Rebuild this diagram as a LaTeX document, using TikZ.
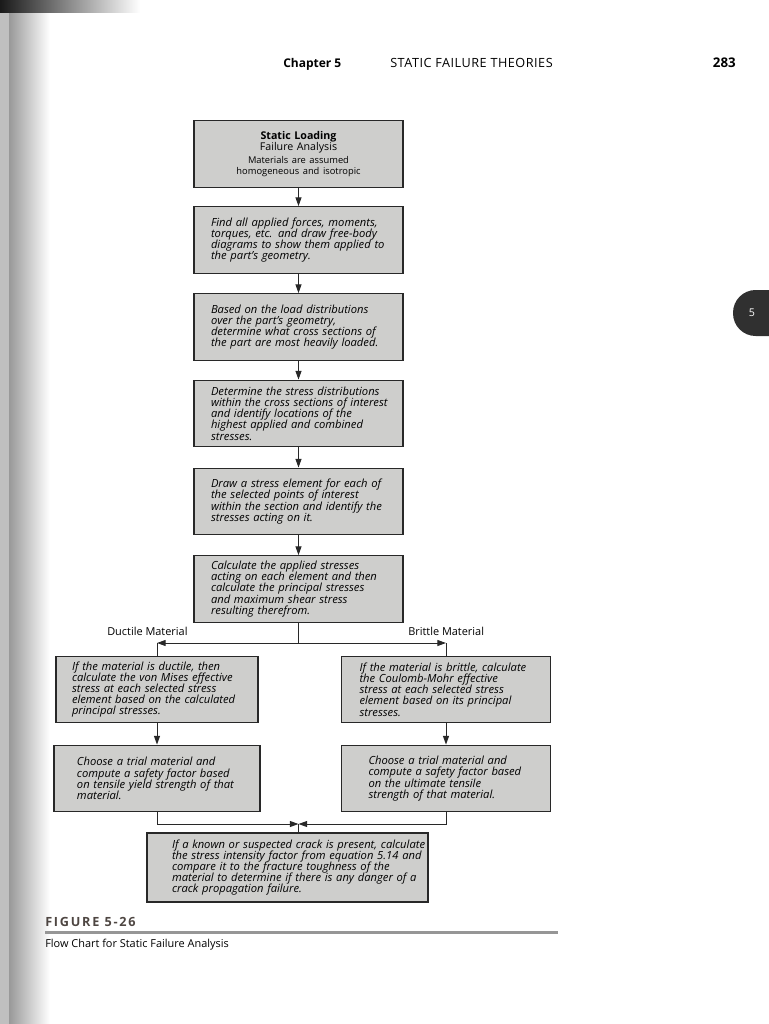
\documentclass[tikz,border=0pt]{standalone}
\usepackage{fontspec}
\setmainfont{Open Sans}
\usetikzlibrary{arrows.meta}

\definecolor{boxgray}{RGB}{206,206,204}
\definecolor{linegray}{RGB}{40,40,40}
\definecolor{capbrown}{RGB}{78,70,66}
\definecolor{rulegray}{RGB}{150,150,150}
\definecolor{tabgray}{RGB}{48,48,48}

\newcommand\boxfont{\fontsize{8.4}{8.4}\selectfont\itshape\lineskiplimit=-10pt\relax}

\tikzset{
  flowbox/.style={draw=linegray, line width=0.9pt, fill=boxgray, align=left,
    inner xsep=1pt, inner ysep=0pt, minimum height=50pt, font=\boxfont},
  flowarrow/.style={draw=linegray, line width=0.75pt, -{Triangle[width=4.5pt,length=6.5pt]}},
  flowline/.style={draw=linegray, line width=0.75pt},
  headtext/.style={inner sep=0pt, font=\fontsize{9.5}{11}\selectfont\addfontfeature{LetterSpace=4}},
  branchlabel/.style={inner sep=0pt, font=\fontsize{8.2}{10}\selectfont}
}

\begin{document}
\begin{tikzpicture}[x=0.75pt,y=-0.75pt]

% 範囲
\useasboundingbox (0,0) rectangle (768,1024);

% ページの影
\fill[gray!50] (0,0) rectangle (9,1024);
\shade[left color=gray!80, right color=white] (9,0) rectangle (50,1024);
\shade[left color=black!90, right color=white] (0,0) rectangle (140,13);

% 見出し
\node[inner sep=0pt, anchor=base west, font=\fontsize{9}{11}\selectfont\bfseries] (chap) at (283,68) {Chapter 5};
\node[headtext, anchor=base west] (title) at (390,68) {STATIC FAILURE THEORIES};
\node[inner sep=0pt, anchor=base east, font=\fontsize{10}{11}\selectfont\bfseries] (page) at (736,68) {283};

% タブ
\fill[tabgray, rounded corners=17pt] (733,290) rectangle (800,336);
\node[text=white, font=\fontsize{8}{10}\selectfont] (tab) at (752,313) {5};

% 静的荷重
\node[flowbox, align=center, inner xsep=0pt, text width=156.75pt, font=\fontsize{8}{8.25}\selectfont] (b1) at (298.5,154)
  {{\bfseries Static Loading}\\Failure Analysis\\[1.5pt]
   {\fontsize{7}{8}\selectfont Materials are assumed}\\
   {\fontsize{7}{8}\selectfont homogeneous and isotropic}};

% 荷重
\node[flowbox, text width=154.75pt] (b2) at (298.5,240)
  {\leftskip=11.75pt\relax Find all applied forces, moments,\\torques, etc. and draw free-body\\diagrams to show them applied to\\the part's geometry.\par};

% 断面
\node[flowbox, text width=154.75pt] (b3) at (298.5,327)
  {\leftskip=11.75pt\relax Based on the load distributions\\over the part's geometry,\\determine what cross sections of\\the part are most heavily loaded.\par};

% 応力分布
\node[flowbox, text width=154.75pt] (b4) at (298.5,413.5)
  {\leftskip=11.75pt\relax Determine the stress distributions\\within the cross sections of interest\\and identify locations of the\\highest applied and combined\\stresses.\par};

% 応力要素
\node[flowbox, text width=154.75pt] (b5) at (298.5,501.5)
  {\leftskip=11.75pt\relax Draw a stress element for each of\\the selected points of interest\\within the section and identify the\\stresses acting on it.\par};

% 主応力
\node[flowbox, text width=154.75pt] (b6) at (298.5,589)
  {\leftskip=11.75pt\relax Calculate the applied stresses\\acting on each element and then\\calculate the principal stresses\\and maximum shear stress\\resulting therefrom.\par};

% 延性材料
\node[flowbox, text width=149.5pt] (b7) at (157,689.5)
  {\leftskip=11pt\relax If the material is ductile, then\\calculate the von Mises effective\\stress at each selected stress\\element based on the calculated\\principal stresses.\par};

% 脆性材料
\node[flowbox, text width=154.75pt] (b8) at (446,689.5)
  {\leftskip=12.5pt\relax If the material is brittle, calculate\\the Coulomb-Mohr effective\\stress at each selected stress\\element based on its principal\\stresses.\par};

% 安全率(延性)
\node[flowbox, text width=152.5pt] (b9) at (157,778.5)
  {\leftskip=16.25pt\relax Choose a trial material and\\compute a safety factor based\\on tensile yield strength of that\\material.\par};

% 安全率(脆性)
\node[flowbox, text width=154.75pt] (b10) at (446,778.5)
  {\leftskip=19.25pt\relax Choose a trial material and\\compute a safety factor based\\on the ultimate tensile\\strength of that material.\par};

% き裂
\node[flowbox, text width=208.75pt, minimum height=51.75pt] (b11) at (287.5,867.5)
  {\leftskip=17.75pt\relax If a known or suspected crack is present, calculate\\the stress intensity factor from equation 5.14 and\\compare it to the fracture toughness of the\\material to determine if there is any danger of a\\crack propagation failure.\par};

% 矢印
\draw[flowarrow] (b1) -- (b2);
\draw[flowarrow] (b2) -- (b3);
\draw[flowarrow] (b3) -- (b4);
\draw[flowarrow] (b4) -- (b5);
\draw[flowarrow] (b5) -- (b6);

% 分岐
\coordinate (split) at (298.5,643);
\coordinate (dl) at (157,643);
\coordinate (dr) at (446,643);
\draw[flowline] (b6) -- (split);
\draw[flowarrow] (split) -- (dl);
\draw[flowarrow] (split) -- (dr);
\draw[flowline] (dl) -- (b7);
\draw[flowline] (dr) -- (b8);
\node[branchlabel, anchor=base west] (ductile) at (107,635) {Ductile Material};
\node[branchlabel, anchor=base west] (brittle) at (408,635) {Brittle Material};

\draw[flowarrow] (b7) -- (b9);
\draw[flowarrow] (b8) -- (b10);

% 合流
\coordinate (join) at (298.5,824);
\draw[flowarrow] (b9) |- (join);
\draw[flowarrow] (b10) |- (join);
\draw[flowline] (join) -- (join |- b11.north);

% 図番号
\node[inner sep=0pt, anchor=base west, text=capbrown,
  font=\fontsize{9.5}{11}\selectfont\bfseries\addfontfeature{LetterSpace=14}] (fig) at (45,926) {FIGURE 5-26};
\draw[rulegray, line width=2.2pt] (45,932.5) -- (558,932.5);
\node[inner sep=0pt, anchor=base west, font=\fontsize{8.2}{10}\selectfont] (cap) at (45,947) {Flow Chart for Static Failure Analysis};

\end{tikzpicture}
\end{document}
